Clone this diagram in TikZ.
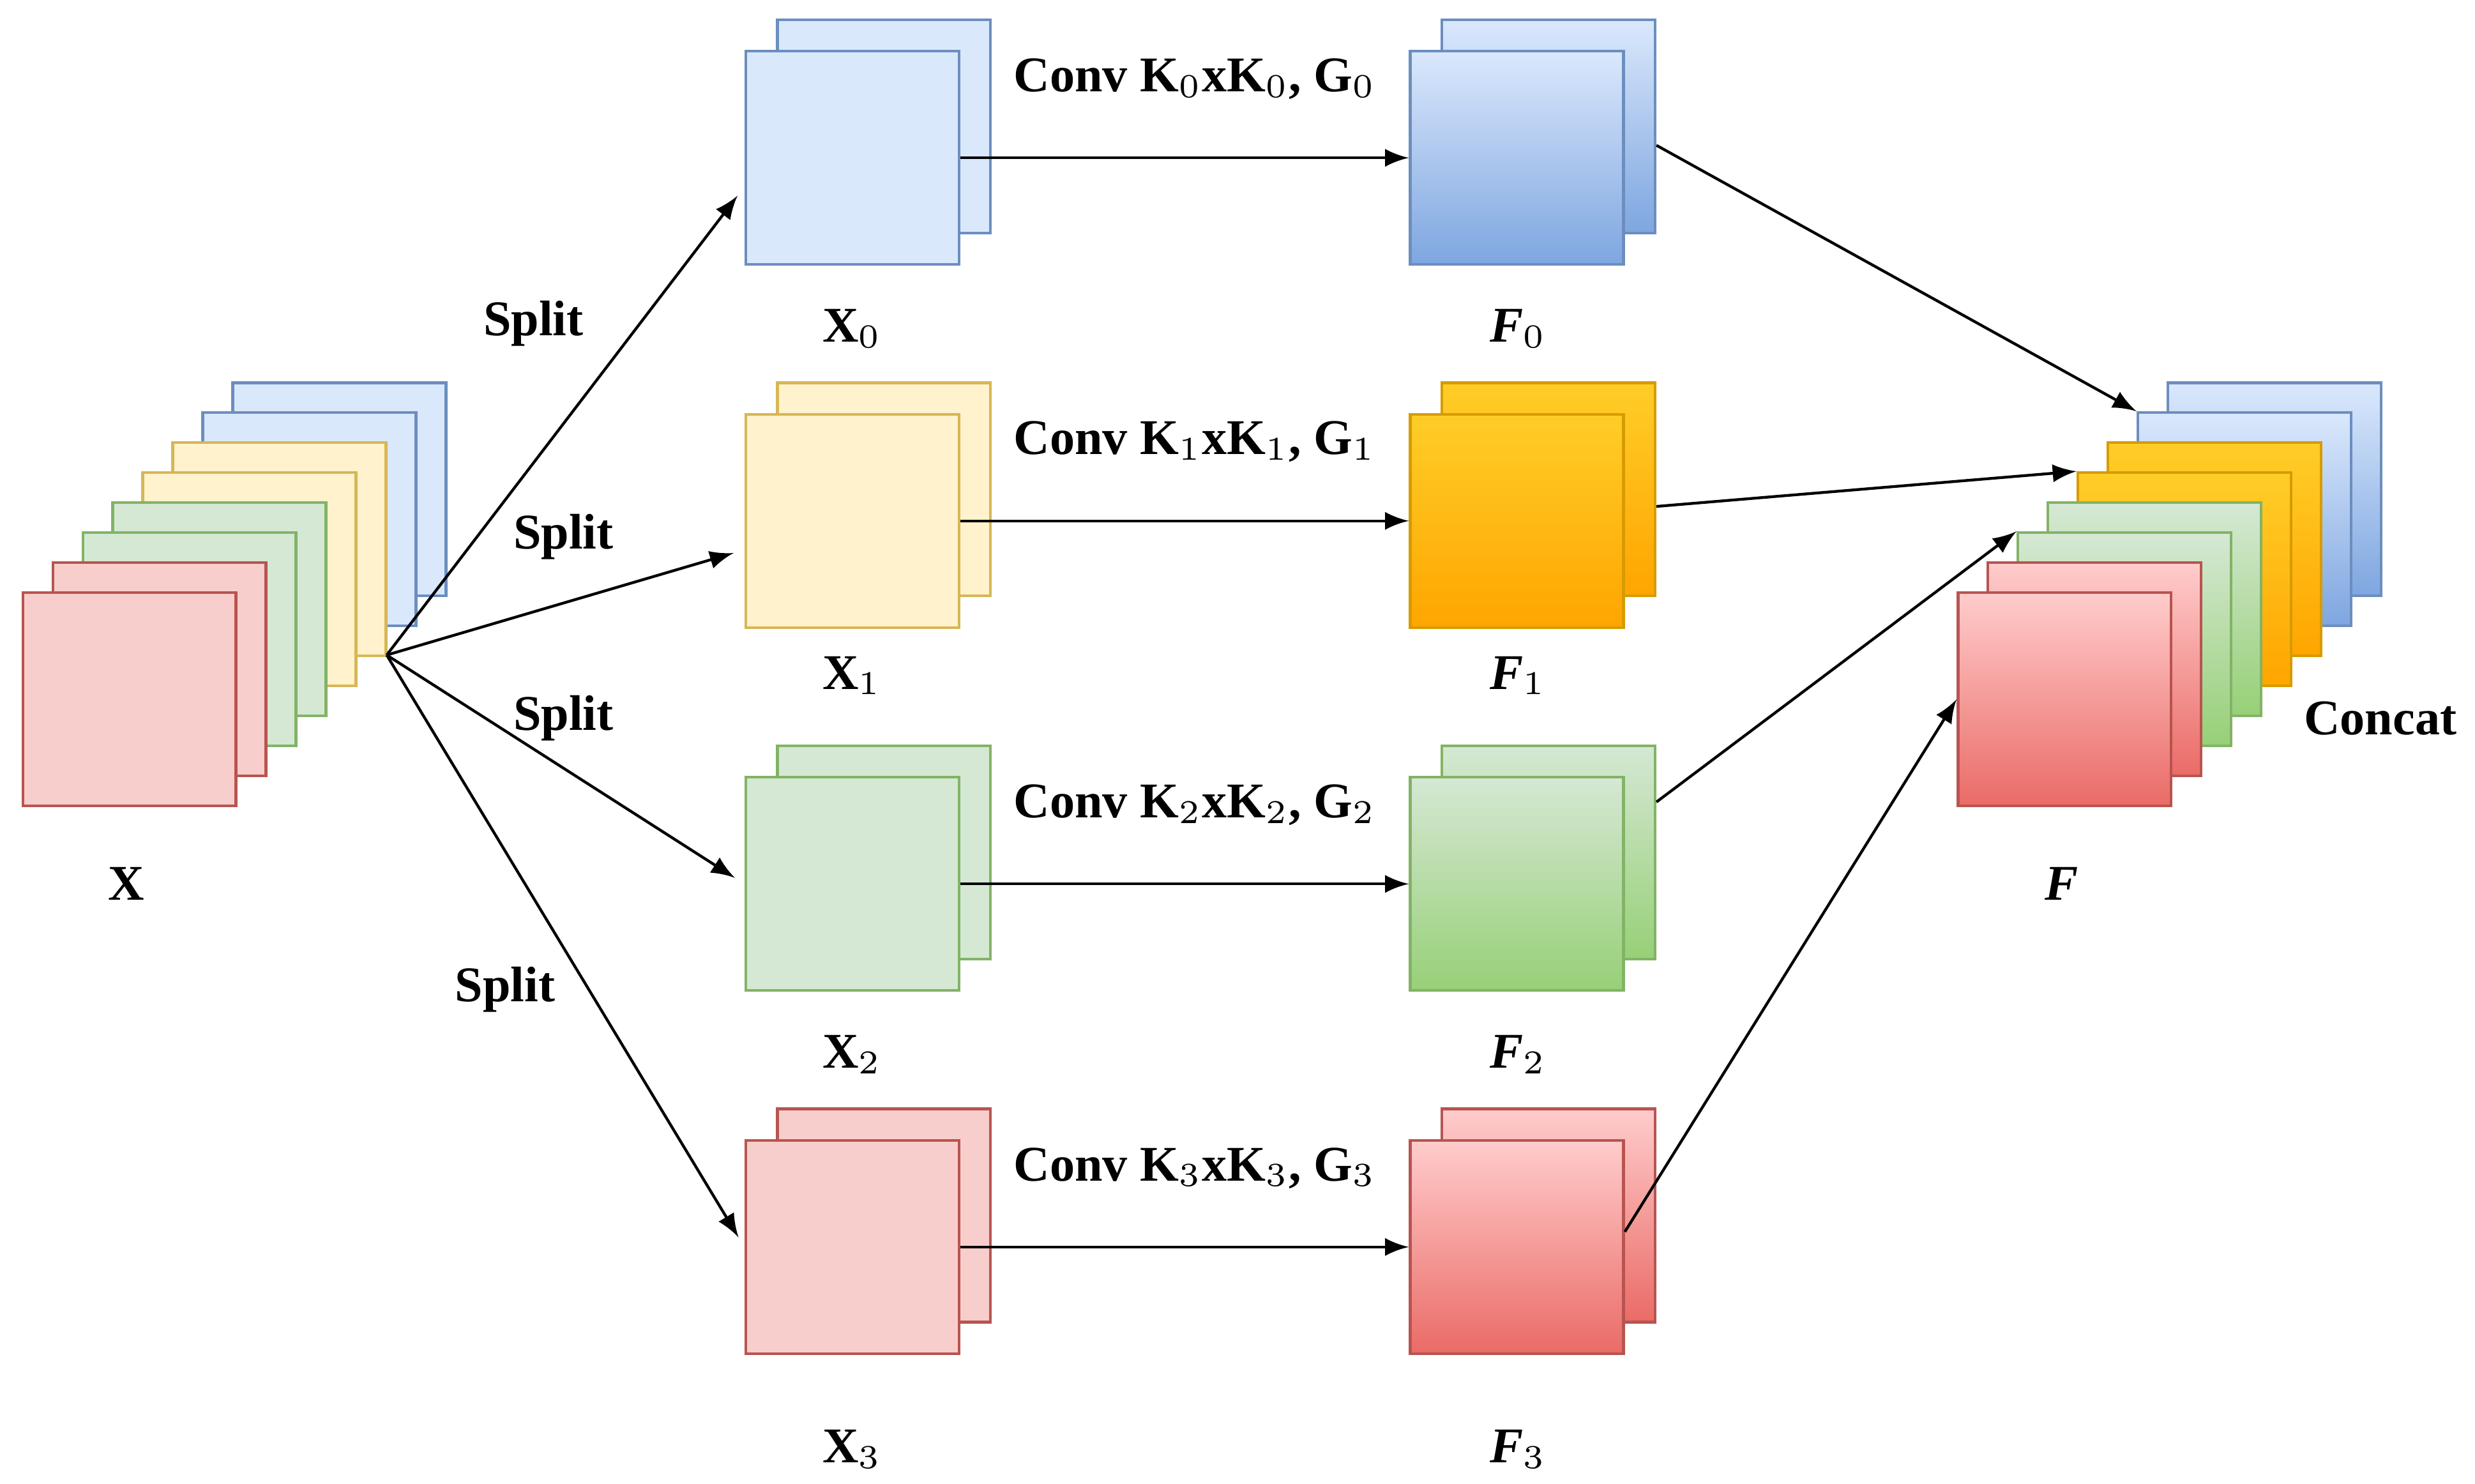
\documentclass[tikz,border=0pt]{standalone}
\usepackage{fontspec}
\setmainfont{Liberation Serif}
\usetikzlibrary{calc}
\definecolor{bluF}{HTML}{DAE8FC}\definecolor{bluD}{HTML}{6C8EBF}\definecolor{bluG}{HTML}{7EA6E0}
\definecolor{yelF}{HTML}{FFF2CC}\definecolor{yelD}{HTML}{D6B656}
\definecolor{grnF}{HTML}{D5E8D4}\definecolor{grnD}{HTML}{82B366}\definecolor{grnG}{HTML}{97D077}
\definecolor{redF}{HTML}{F8CECC}\definecolor{redD}{HTML}{B85450}\definecolor{redG}{HTML}{EA6B66}\definecolor{redT}{HTML}{FFCCCC}
\definecolor{oraT}{HTML}{FFCD28}\definecolor{oraB}{HTML}{FFA500}\definecolor{oraD}{HTML}{D79B00}
\tikzset{
	sq/.style={rectangle, draw, minimum size=1.35cm, inner sep=0pt, line width=0.5pt},
	blu/.style={sq, fill=bluF, draw=bluD},
	yel/.style={sq, fill=yelF, draw=yelD},
	grn/.style={sq, fill=grnF, draw=grnD},
	rd/.style={sq, fill=redF, draw=redD},
	bluS/.style={sq, top color=bluF, bottom color=bluG, draw=bluD},
	oraS/.style={sq, top color=oraT, bottom color=oraB, draw=oraD},
	grnS/.style={sq, top color=grnF, bottom color=grnG, draw=grnD},
	rdS/.style={sq, top color=redT, bottom color=redG, draw=redD},
	lbl/.style={font=\fontsize{9}{10}\selectfont\bfseries, inner sep=0pt},
	arr/.style={-latex, line width=0.5pt}
}
\begin{document}
\begin{tikzpicture}[x=0.01cm, y=-0.01cm]
	\useasboundingbox (0,0) rectangle (1568,940);
	% input stack
	\foreach \i/\s in {1/blu, 2/blu, 3/yel, 4/yel, 5/grn, 6/grn, 7/rd, 8/rd}
		\node[\s] (s\i) at ({215-19*(\i-1)}, {310+19*(\i-1)}) {};
	\node[lbl] (xl) at (80,560) {X};
	% concat stack
	\foreach \i/\s in {1/bluS, 2/bluS, 3/oraS, 4/oraS, 5/grnS, 6/grnS, 7/rdS, 8/rdS}
		\node[\s] (c\i) at ({1441-19*(\i-1)}, {310+19*(\i-1)}) {};
	\node[lbl] (cl) at (1508,455) {Concat};
	\node[lbl] (fl) at (1306,560) {\itshape F};
	% branches
	\foreach \k/\y/\ly/\s/\t in {0/100/208/blu/bluS, 1/330/428/yel/oraS, 2/560/668/grn/grnS, 3/790/918/rd/rdS} {
		\node[\s] (x\k b) at (560,{\y-20}) {};
		\node[\s] (x\k) at (540,\y) {};
		\node[\t] (f\k b) at (981,{\y-20}) {};
		\node[\t] (f\k) at (961,\y) {};
		\node[lbl] (xl\k) at (540,\ly) {X$_{\k}$};
		\node[lbl] (fl\k) at (962,\ly) {\itshape F$_{\k}$};
		\node[lbl] (cv\k) at (757,{\y-50}) {Conv K$_{\k}$xK$_{\k}$, G$_{\k}$};
		\draw[arr] (x\k.east) -- (f\k.west);
	}
	% split
	\coordinate (sp) at (245,415);
	\node[lbl] (sl0) at (338,205) {Split};
	\node[lbl] (sl1) at (357,340) {Split};
	\node[lbl] (sl2) at (357,455) {Split};
	\node[lbl] (sl3) at (320,627) {Split};
	\draw[arr, shorten >=2pt] (sp) -- (x0.195);
	\draw[arr, shorten >=2pt] (sp) -- (x1.195);
	\draw[arr, shorten >=2pt] (sp) -- (x2.west);
	\draw[arr, shorten >=2pt] (sp) -- (x3.west);
	% merge
	\draw[arr] (f0b.350) -- (c2.north west);
	\draw[arr] (f1b.351) -- (c4.north west);
	\draw[arr] (f2b.25) -- (c6.north west);
	\draw[arr] (f3.8) -- (c8.west);
\end{tikzpicture}
\end{document}
